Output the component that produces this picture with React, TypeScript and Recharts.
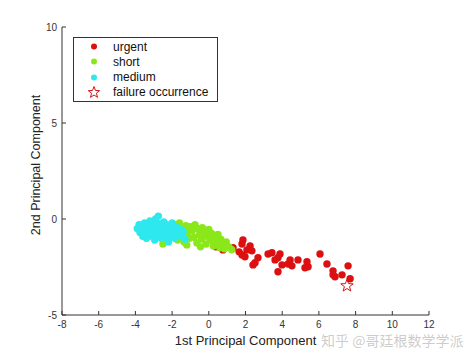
import { ScatterChart, Scatter, XAxis, YAxis } from "recharts";

const xTicks = [-8, -6, -4, -2, 0, 2, 4, 6, 8, 10, 12];
const yTicks = [-5, 0, 5, 10];

const urgent: [number, number][] = [
  [0.39, -1.45], [0.77, -1.61], [1.32, -1.5], [1.65, -1.71], [1.81, -1.3], [1.86, -1.09],
  [2.08, -1.61], [2.25, -1.4], [2.35, -1.66], [1.81, -1.87], [1.97, -1.97], [2.68, -2.02],
  [2.52, -2.28], [2.41, -2.39], [3.23, -1.82], [3.44, -1.76], [3.88, -1.82], [3.77, -2.02],
  [3.61, -2.13], [3.99, -2.39], [4.43, -2.13], [4.32, -2.34], [4.53, -2.44], [4.86, -2.13],
  [5.35, -2.23], [5.41, -2.49], [5.24, -2.54], [3.77, -2.75], [6.06, -1.82], [6.44, -2.34],
  [6.77, -2.7], [6.77, -2.91], [6.88, -3.01], [7.26, -2.91], [7.59, -2.44], [7.7, -3.11],
];

const short: [number, number][] = [
  [-2.5, -1.3], [-2.3, -1.0], [-2.0, -0.9], [-1.9, -0.3], [-1.8, -0.6], [-1.7, -1.1],
  [-1.6, -0.2], [-1.5, -0.5], [-1.45, -0.85], [-1.35, -1.2], [-1.25, -0.35], [-1.15, -0.7],
  [-1.05, -1.0], [-1.0, -0.4], [-0.9, -0.6], [-0.8, -0.95], [-0.75, -0.3], [-0.65, -1.25],
  [-0.6, -0.5], [-0.5, -0.8], [-0.4, -1.05], [-0.35, -0.45], [-0.25, -0.7], [-0.15, -1.3],
  [-0.1, -0.9], [0.0, -0.55], [0.1, -1.1], [0.15, -0.75], [0.25, -1.4], [0.3, -0.95],
  [0.4, -1.2], [0.5, -0.8], [0.6, -1.5], [0.65, -1.05], [0.75, -1.3], [0.85, -1.55],
  [0.95, -1.2], [1.1, -1.45], [1.25, -1.6], [-1.2, -1.35], [-0.45, -1.45],
];

const medium: [number, number][] = [
  [-3.9, -0.5], [-3.8, -0.3], [-3.75, -0.7], [-3.6, -0.4], [-3.6, -0.9], [-3.5, -0.2],
  [-3.5, -0.6], [-3.4, -1.0], [-3.35, -0.35], [-3.3, -0.75], [-3.2, -0.1], [-3.2, -0.5],
  [-3.1, -0.9], [-3.05, -0.3], [-3.0, -0.65], [-2.95, -1.1], [-2.9, 0.0], [-2.85, -0.45],
  [-2.8, -0.8], [-2.75, 0.15], [-2.7, -0.25], [-2.65, -0.6], [-2.6, -1.0], [-2.55, -0.4],
  [-2.5, -0.75], [-2.45, -0.15], [-2.4, -0.55], [-2.35, -0.95], [-2.3, -0.3], [-2.25, -0.7],
  [-2.2, -1.2], [-2.1, -0.45], [-2.05, -0.85], [-2.0, -0.2], [-1.95, -0.6], [-1.85, -1.0],
  [-1.8, -0.4], [-1.7, -0.75], [-1.6, -0.5], [-1.5, -0.9], [-1.4, -0.65], [-1.3, -1.05],
];

const failure: [number, number][] = [[7.53, -3.48]];

const RED = "#dc1010";
const GREEN = "#8ae81a";
const CYAN = "#2ee8ee";
const FONT = "'Liberation Sans', Arial, sans-serif";

const toPts = (arr: [number, number][]) => arr.map(([x, y]) => ({ x, y }));

const dot = (color: string) => (props: any) =>
  <circle cx={props.cx} cy={props.cy} r={3.7} fill={color} />;

function starPoints(cx: number, cy: number, ro: number, ri: number) {
  const pts: string[] = [];
  for (let i = 0; i < 10; i++) {
    const r = i % 2 === 0 ? ro : ri;
    const a = -Math.PI / 2 + (i * Math.PI) / 5;
    pts.push(`${cx + r * Math.cos(a)},${cy + r * Math.sin(a)}`);
  }
  return pts.join(" ");
}

const StarShape = (props: any) =>
  <polygon points={starPoints(props.cx, props.cy, 6.5, 2.7)} fill="none" stroke={RED} strokeWidth={1} />;

const tickStyle = { fill: "#333", fontSize: 10, fontFamily: FONT };

function LegendBox() {
  const rows = [
    { label: "urgent", color: RED },
    { label: "short", color: GREEN },
    { label: "medium", color: CYAN },
    { label: "failure occurrence", color: RED, star: true },
  ];
  return (
    <div style={{ position: "absolute", left: 73, top: 37, width: 143, height: 63, border: "1px solid #333", background: "#fff", fontFamily: FONT, fontSize: 12, color: "#111" }}>
      {rows.map((r, i) => (
        <div key={r.label} style={{ position: "absolute", left: 0, top: 1 + i * 15.3, height: 15, display: "flex", alignItems: "center" }}>
          <svg width={39} height={15}>
            {r.star
              ? <polygon points={starPoints(20, 7.5, 6, 2.5)} fill="none" stroke={RED} />
              : <circle cx={20} cy={7.5} r={3} fill={r.color} />}
          </svg>
          <span>{r.label}</span>
        </div>
      ))}
    </div>
  );
}

export default function App() {
  return (
    <div style={{ position: "absolute", left: 0, top: 0, width: 474, height: 355, background: "#fff" }}>
      <ScatterChart width={474} height={355} margin={{ top: 27, right: 45, left: 0, bottom: 0 }}>
        <XAxis
          type="number" dataKey="x" domain={[-8, 12]} ticks={xTicks} height={40}
          axisLine={{ stroke: "#333" }} tickLine={{ stroke: "#333" }} tickSize={-4} tickMargin={10}
          tick={tickStyle} allowDataOverflow
          label={{
            content: ({ viewBox }: any) => (
              <text x={viewBox.x + viewBox.width / 2} y={345} textAnchor="middle" fontSize={13} fontFamily={FONT} fill="#222">
                1st Principal Component
              </text>
            ),
          }}
        />
        <XAxis
          xAxisId="top" orientation="top" type="number" dataKey="x" domain={[-8, 12]} ticks={xTicks}
          height={0} axisLine={{ stroke: "#333" }} tickLine={{ stroke: "#333" }} tickSize={-4} tick={false}
        />
        <YAxis
          type="number" dataKey="y" domain={[-5, 10]} ticks={yTicks} width={62}
          axisLine={{ stroke: "#333" }} tickLine={{ stroke: "#333" }} tickSize={-4} tickMargin={9}
          tick={tickStyle} allowDataOverflow
          label={{
            content: ({ viewBox }: any) => {
              const cy = viewBox.y + viewBox.height / 2 - 6;
              return (
                <text x={37} y={cy} transform={`rotate(-90 37 ${cy})`} textAnchor="middle" dominantBaseline="middle" fontSize={12.5} fontFamily={FONT} fill="#222">
                  2nd Principal Component
                </text>
              );
            },
          }}
        />
        <YAxis
          yAxisId="right" orientation="right" type="number" dataKey="y" domain={[-5, 10]} ticks={yTicks}
          width={0} axisLine={{ stroke: "#333" }} tickLine={{ stroke: "#333" }} tickSize={-4} tick={false}
        />
        <Scatter name="urgent" data={toPts(urgent)} shape={dot(RED)} isAnimationActive={false} />
        <Scatter name="short" data={toPts(short)} shape={dot(GREEN)} isAnimationActive={false} />
        <Scatter name="medium" data={toPts(medium)} shape={dot(CYAN)} isAnimationActive={false} />
        <Scatter name="failure occurrence" data={toPts(failure)} shape={StarShape} isAnimationActive={false} />
      </ScatterChart>
      <LegendBox />
      <span style={{ position: "absolute", left: 321, top: 333, lineHeight: "14px", fontFamily: "'Noto Sans CJK SC', sans-serif", fontSize: 14, color: "rgba(140,140,140,0.45)" }}>
        知乎 @哥廷根数学学派
      </span>
    </div>
  );
}
